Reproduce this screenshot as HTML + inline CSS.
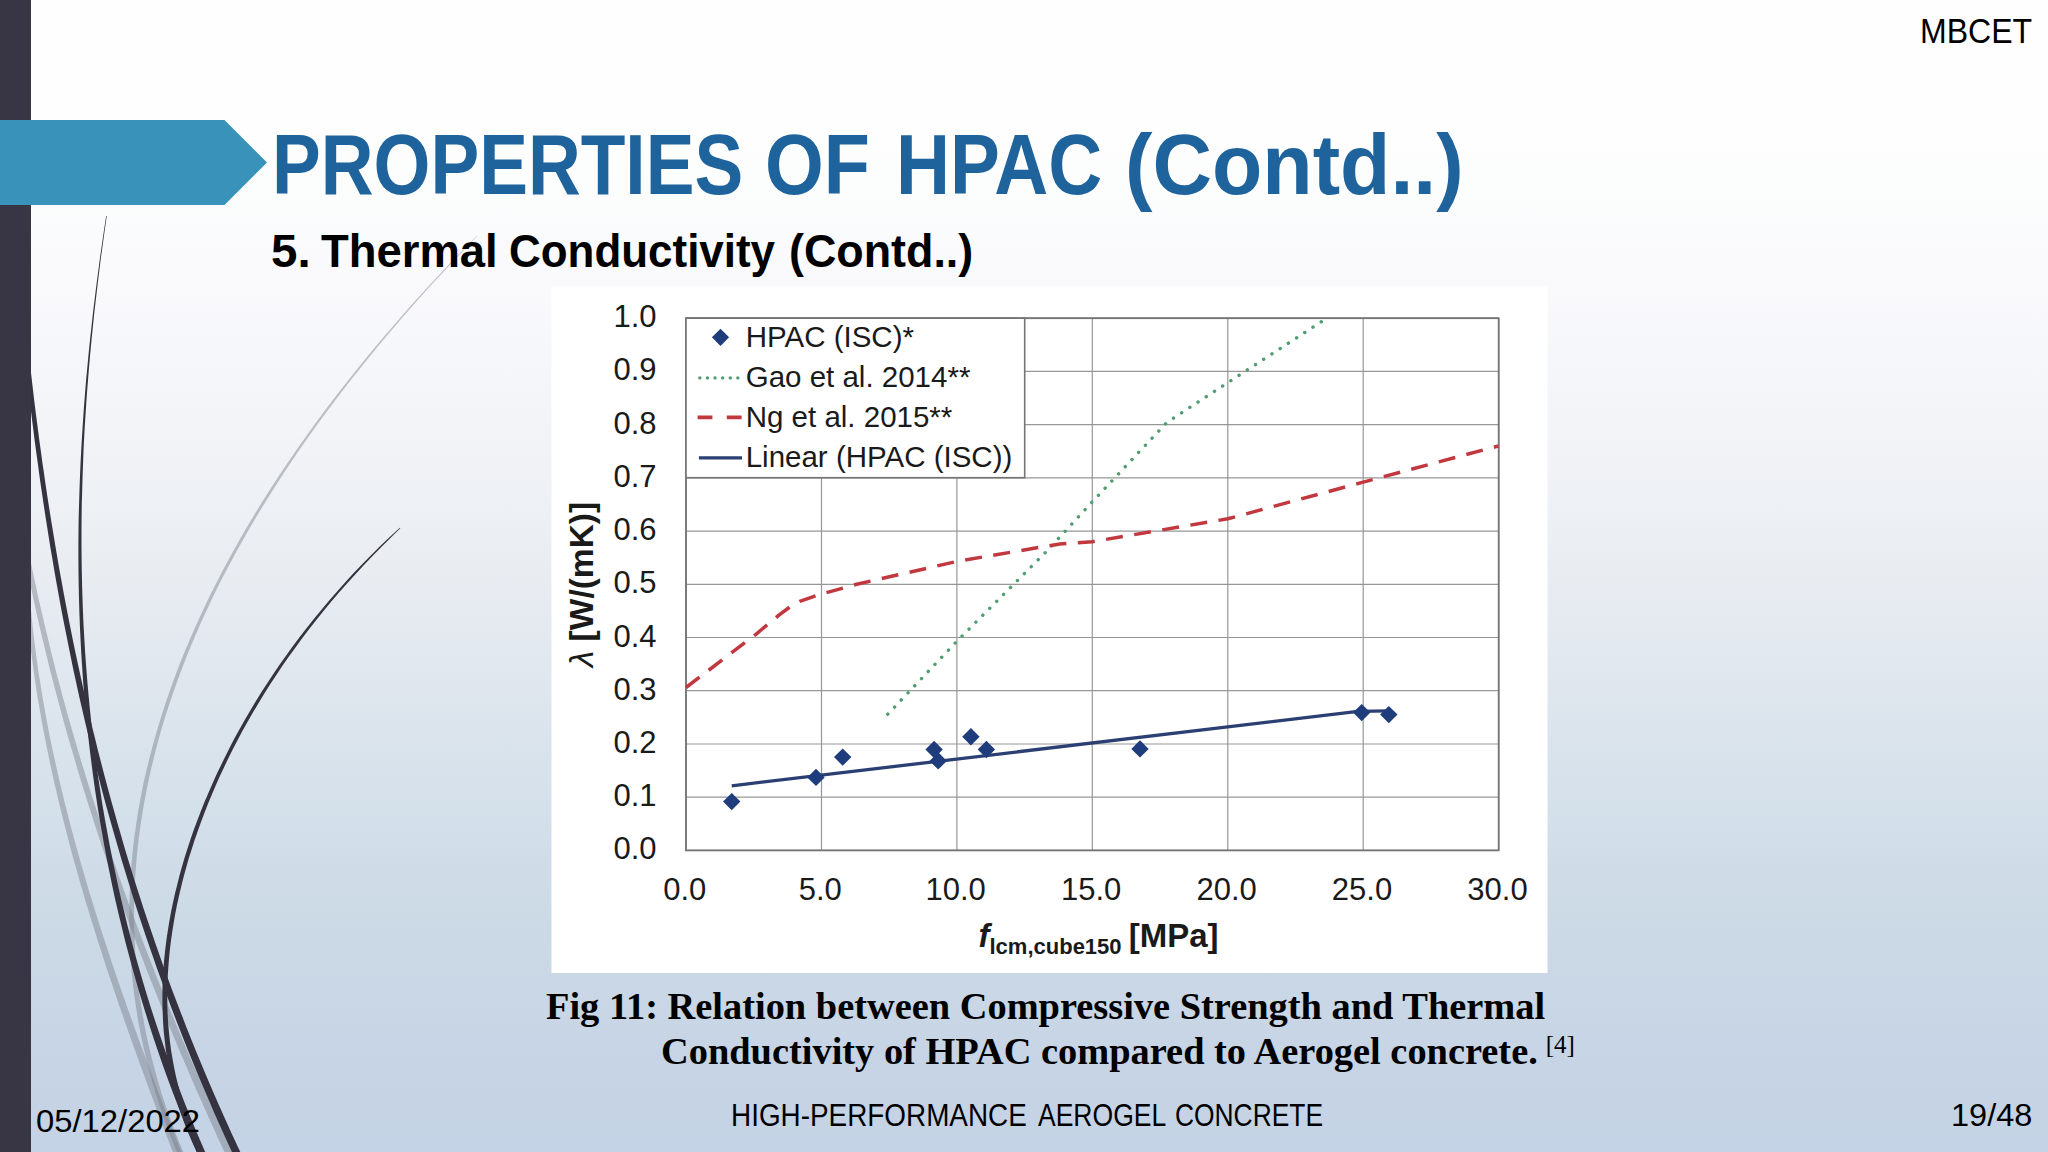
<!DOCTYPE html>
<html lang="en">
<head>
<meta charset="utf-8">
<title>PROPERTIES OF HPAC (Contd..)</title>
<style>
html,body{margin:0;padding:0;}
body{width:2048px;height:1152px;overflow:hidden;position:relative;font-family:"Liberation Sans",sans-serif;
background:linear-gradient(180deg,#fdfefd 0%,#fdfefd 12%,#f9f9fc 26%,#eef1f5 43%,#e5eaf0 54%,#d9e3ec 65%,#cddbe7 78%,#c6d4e5 92%,#c4d3e5 100%);}
.abs{position:absolute;white-space:nowrap;line-height:1;transform-origin:0 0;}
#sidebar{position:absolute;left:0;top:0;width:31px;height:1152px;background:#383644;}
svg{position:absolute;left:0;top:0;}
svg text{font-family:"Liberation Sans",sans-serif;}
#title{left:0;top:123.2px;font-size:84.4px;font-weight:bold;color:#1f639c;margin:0;}
#subtitle{left:0;top:227px;font-size:47px;font-weight:bold;color:#000;margin:0;}
.w{position:absolute;top:0;white-space:nowrap;transform-origin:0 0;display:block;}
#mbcet{left:1920px;top:14.4px;font-size:35.6px;transform:scaleX(0.90);color:#000;}
#footer{left:0;top:1099.6px;font-size:31.2px;color:#000;}
#date{left:36.2px;top:1107.3px;font-size:30.8px;transform:scaleX(1.0645);color:#000;}
#pageno{left:1951.4px;top:1100.9px;font-size:30.8px;transform:scaleX(1.055);color:#000;}
#caption{left:546px;top:983.5px;font-size:38.4px;line-height:45px;font-weight:bold;color:#000;font-family:"Liberation Serif",serif;}
#caption .l2{padding-left:115px;}
#caption sup{font-weight:normal;font-size:25px;vertical-align:baseline;position:relative;top:-11px;margin-left:8px;}
</style>
</head>
<body>
<svg id="deco" width="2048" height="1152" viewBox="0 0 2048 1152">
<path d="M25.9,600.2 L26.6,608.3 L27.3,616.4 L28.1,624.6 L28.9,632.7 L29.8,640.8 L30.8,649.0 L31.8,657.1 L32.9,665.2 L34.0,673.4 L35.2,681.5 L36.4,689.7 L37.7,697.8 L39.1,705.9 L40.5,714.1 L41.9,722.2 L43.4,730.3 L45.0,738.5 L46.6,746.6 L48.3,754.7 L50.0,762.9 L51.7,771.0 L53.5,779.2 L55.4,787.3 L57.3,795.4 L59.2,803.6 L61.2,811.7 L63.2,819.8 L65.3,828.0 L67.4,836.1 L69.5,844.2 L71.7,852.4 L73.9,860.5 L76.2,868.6 L78.5,876.8 L80.8,884.9 L83.2,893.1 L85.6,901.2 L88.1,909.3 L90.5,917.5 L93.0,925.6 L95.6,933.7 L98.2,941.9 L100.8,950.0 L103.4,958.1 L106.0,966.3 L108.7,974.4 L111.5,982.5 L114.2,990.7 L117.0,998.8 L119.7,1006.9 L122.6,1015.1 L125.4,1023.2 L128.3,1031.3 L131.1,1039.5 L134.0,1047.6 L137.0,1055.7 L139.9,1063.9 L142.9,1072.0 L145.8,1080.1 L148.8,1088.3 L151.9,1096.4 L154.9,1104.5 L157.9,1112.7 L161.0,1120.8 L164.0,1128.9 L167.1,1137.1 L170.2,1145.2 L173.3,1153.3 L176.4,1161.4 L183.9,1158.6 L180.7,1150.5 L177.6,1142.4 L174.4,1134.3 L171.3,1126.1 L168.2,1118.0 L165.1,1109.9 L162.0,1101.8 L158.9,1093.7 L155.9,1085.6 L152.8,1077.5 L149.8,1069.4 L146.8,1061.3 L143.8,1053.2 L140.8,1045.1 L137.9,1037.0 L135.0,1028.9 L132.1,1020.9 L129.2,1012.8 L126.3,1004.7 L123.5,996.6 L120.7,988.5 L117.9,980.4 L115.1,972.3 L112.4,964.2 L109.7,956.1 L107.0,948.0 L104.4,939.9 L101.7,931.8 L99.2,923.7 L96.6,915.6 L94.1,907.5 L91.6,899.4 L89.1,891.3 L86.7,883.2 L84.3,875.1 L82.0,867.0 L79.7,858.9 L77.4,850.8 L75.2,842.7 L73.0,834.6 L70.8,826.5 L68.7,818.4 L66.7,810.3 L64.6,802.2 L62.6,794.1 L60.7,786.0 L58.8,778.0 L57.0,769.9 L55.2,761.8 L53.4,753.7 L51.7,745.6 L50.0,737.5 L48.4,729.4 L46.9,721.3 L45.4,713.2 L43.9,705.1 L42.5,697.0 L41.2,688.9 L39.9,680.8 L38.6,672.7 L37.5,664.6 L36.3,656.5 L35.3,648.4 L34.2,640.3 L33.3,632.2 L32.4,624.1 L31.6,616.0 L30.8,607.9 L30.1,599.8Z" fill="#787d87" fill-opacity="0.45"/>
<path d="M25.4,560.5 L27.1,569.2 L28.9,577.9 L30.8,586.6 L32.6,595.3 L34.5,604.0 L36.4,612.8 L38.4,621.5 L40.4,630.2 L42.5,638.9 L44.6,647.6 L46.7,656.3 L48.8,665.0 L51.0,673.7 L53.3,682.4 L55.5,691.1 L57.9,699.9 L60.2,708.6 L62.6,717.3 L65.0,726.0 L67.4,734.7 L69.9,743.4 L72.5,752.1 L75.0,760.8 L77.6,769.5 L80.2,778.3 L82.9,787.0 L85.6,795.7 L88.3,804.4 L91.1,813.1 L93.9,821.8 L96.7,830.5 L99.6,839.2 L102.5,847.9 L105.5,856.7 L108.4,865.4 L111.4,874.1 L114.5,882.8 L117.6,891.5 L120.7,900.2 L123.8,908.9 L127.0,917.6 L130.2,926.4 L133.4,935.1 L136.7,943.8 L140.0,952.5 L143.4,961.2 L146.7,969.9 L150.1,978.6 L153.6,987.3 L157.1,996.1 L160.6,1004.8 L164.1,1013.5 L167.7,1022.2 L171.3,1030.9 L174.9,1039.6 L178.5,1048.3 L182.2,1057.0 L186.0,1065.8 L189.7,1074.5 L193.5,1083.2 L197.3,1091.9 L201.2,1100.6 L205.0,1109.3 L208.9,1118.0 L212.9,1126.7 L216.8,1135.5 L220.8,1144.2 L224.9,1152.9 L228.9,1161.6 L235.7,1158.4 L231.6,1149.7 L227.6,1141.0 L223.6,1132.4 L219.6,1123.7 L215.6,1115.0 L211.7,1106.3 L207.8,1097.7 L203.9,1089.0 L200.1,1080.3 L196.3,1071.6 L192.5,1062.9 L188.7,1054.3 L185.0,1045.6 L181.3,1036.9 L177.7,1028.2 L174.1,1019.5 L170.5,1010.9 L166.9,1002.2 L163.4,993.5 L159.9,984.8 L156.4,976.2 L153.0,967.5 L149.6,958.8 L146.2,950.1 L142.9,941.4 L139.6,932.8 L136.3,924.1 L133.1,915.4 L129.9,906.7 L126.7,898.0 L123.6,889.4 L120.5,880.7 L117.4,872.0 L114.4,863.3 L111.4,854.6 L108.4,846.0 L105.5,837.3 L102.6,828.6 L99.7,819.9 L96.9,811.2 L94.1,802.6 L91.3,793.9 L88.6,785.2 L85.9,776.5 L83.2,767.8 L80.6,759.2 L78.0,750.5 L75.5,741.8 L72.9,733.1 L70.5,724.4 L68.0,715.8 L65.6,707.1 L63.2,698.4 L60.9,689.7 L58.6,681.0 L56.3,672.4 L54.1,663.7 L51.9,655.0 L49.8,646.3 L47.7,637.6 L45.6,629.0 L43.5,620.3 L41.5,611.6 L39.6,602.9 L37.6,594.2 L35.8,585.6 L33.9,576.9 L32.1,568.2 L30.3,559.5Z" fill="#787d87" fill-opacity="0.45"/>
<path d="M477.1,235.4 L464.0,248.7 L451.2,262.1 L438.6,275.4 L426.2,288.8 L414.1,302.1 L402.2,315.5 L390.6,328.9 L379.2,342.2 L368.1,355.6 L357.2,369.0 L346.5,382.4 L336.1,395.7 L326.0,409.1 L316.0,422.5 L306.4,435.9 L296.9,449.3 L287.7,462.7 L278.8,476.0 L270.1,489.4 L261.6,502.8 L253.4,516.2 L245.5,529.6 L237.8,543.0 L230.3,556.4 L223.1,569.8 L216.2,583.2 L209.5,596.6 L203.1,610.0 L196.9,623.4 L191.0,636.8 L185.3,650.2 L179.9,663.6 L174.8,677.1 L169.9,690.5 L165.3,703.9 L161.0,717.3 L156.9,730.7 L153.1,744.2 L149.6,757.6 L146.3,771.0 L143.3,784.4 L140.6,797.9 L138.2,811.3 L136.1,824.8 L134.2,838.2 L132.7,851.6 L131.4,865.1 L130.4,878.5 L129.7,892.0 L129.3,905.4 L129.2,918.9 L129.4,932.3 L129.9,945.8 L130.6,959.2 L131.7,972.7 L133.1,986.1 L134.9,999.6 L136.9,1013.1 L139.2,1026.5 L141.9,1040.0 L144.9,1053.5 L148.2,1066.9 L151.8,1080.4 L155.8,1093.9 L160.1,1107.3 L164.7,1120.8 L169.7,1134.3 L175.0,1147.7 L180.6,1161.2 L186.1,1158.8 L180.5,1145.5 L175.2,1132.2 L170.2,1118.8 L165.5,1105.5 L161.2,1092.2 L157.3,1078.8 L153.6,1065.5 L150.3,1052.2 L147.2,1038.9 L144.5,1025.5 L142.2,1012.2 L140.1,998.9 L138.3,985.5 L136.9,972.2 L135.7,958.9 L134.9,945.5 L134.3,932.2 L134.1,918.8 L134.1,905.5 L134.5,892.2 L135.1,878.8 L136.0,865.5 L137.2,852.1 L138.7,838.7 L140.5,825.4 L142.6,812.0 L144.9,798.7 L147.5,785.3 L150.4,772.0 L153.6,758.6 L157.0,745.2 L160.7,731.8 L164.7,718.5 L169.0,705.1 L173.5,691.7 L178.3,678.3 L183.3,665.0 L188.6,651.6 L194.2,638.2 L200.0,624.8 L206.1,611.4 L212.4,598.0 L219.0,584.6 L225.9,571.3 L233.0,557.9 L240.4,544.5 L248.0,531.1 L255.8,517.7 L264.0,504.3 L272.3,490.9 L280.9,477.5 L289.8,464.0 L298.9,450.6 L308.2,437.2 L317.8,423.8 L327.7,410.4 L337.8,397.0 L348.1,383.6 L358.7,370.2 L369.5,356.7 L380.5,343.3 L391.8,329.9 L403.3,316.5 L415.1,303.0 L427.1,289.6 L439.4,276.2 L451.9,262.7 L464.6,249.3 L477.5,235.8Z" fill="#787d87" fill-opacity="0.45"/>
<path d="M399.9,527.8 L390.0,536.7 L380.5,545.8 L371.3,554.9 L362.4,564.0 L353.7,573.1 L345.3,582.3 L337.1,591.4 L329.2,600.5 L321.5,609.7 L314.0,618.8 L306.7,628.0 L299.7,637.1 L292.8,646.3 L286.2,655.4 L279.7,664.6 L273.5,673.7 L267.4,682.9 L261.5,692.0 L255.8,701.2 L250.3,710.4 L245.0,719.5 L239.8,728.7 L234.8,737.8 L230.0,747.0 L225.4,756.2 L220.9,765.4 L216.5,774.5 L212.4,783.7 L208.4,792.9 L204.5,802.0 L200.8,811.2 L197.3,820.4 L193.9,829.6 L190.7,838.8 L187.7,847.9 L184.8,857.1 L182.1,866.3 L179.5,875.5 L177.2,884.7 L174.9,893.9 L172.9,903.1 L171.0,912.3 L169.3,921.5 L167.8,930.7 L166.4,939.9 L165.3,949.1 L164.3,958.3 L163.5,967.5 L162.9,976.7 L162.5,985.9 L162.4,995.1 L162.4,1004.3 L162.7,1013.6 L163.1,1022.8 L163.8,1032.0 L164.8,1041.2 L165.9,1050.5 L167.4,1059.7 L169.0,1068.9 L171.0,1078.1 L173.2,1087.4 L175.7,1096.6 L178.4,1105.9 L181.5,1115.1 L184.8,1124.3 L188.5,1133.6 L192.5,1142.8 L196.8,1152.1 L201.4,1161.3 L206.4,1158.7 L201.8,1149.6 L197.5,1140.5 L193.6,1131.5 L189.9,1122.4 L186.6,1113.3 L183.5,1104.2 L180.8,1095.2 L178.3,1086.1 L176.1,1077.0 L174.2,1067.9 L172.5,1058.8 L171.0,1049.7 L169.8,1040.6 L168.9,1031.5 L168.1,1022.4 L167.6,1013.3 L167.3,1004.2 L167.3,995.1 L167.4,986.0 L167.7,976.9 L168.3,967.8 L169.0,958.7 L169.9,949.6 L171.0,940.5 L172.3,931.4 L173.8,922.2 L175.4,913.1 L177.2,904.0 L179.2,894.9 L181.4,885.7 L183.7,876.6 L186.2,867.5 L188.8,858.3 L191.7,849.2 L194.6,840.1 L197.8,830.9 L201.1,821.8 L204.5,812.7 L208.1,803.5 L211.9,794.4 L215.8,785.2 L219.9,776.1 L224.2,766.9 L228.6,757.8 L233.2,748.6 L237.9,739.5 L242.8,730.3 L247.9,721.2 L253.2,712.0 L258.6,702.9 L264.2,693.7 L270.0,684.5 L276.0,675.4 L282.1,666.2 L288.5,657.1 L295.1,647.9 L301.8,638.7 L308.8,629.5 L315.9,620.4 L323.3,611.2 L330.9,602.0 L338.8,592.8 L346.8,583.7 L355.2,574.5 L363.7,565.3 L372.5,556.1 L381.6,546.8 L390.9,537.6 L400.3,528.2Z" fill="#34333f" fill-opacity="1"/>
<path d="M106.2,216.0 L104.1,229.6 L102.1,243.3 L100.1,257.0 L98.3,270.7 L96.5,284.3 L94.8,298.0 L93.1,311.7 L91.6,325.4 L90.1,339.1 L88.7,352.7 L87.4,366.4 L86.1,380.1 L85.0,393.8 L83.9,407.5 L83.0,421.1 L82.1,434.8 L81.3,448.5 L80.6,462.2 L80.0,475.9 L79.5,489.6 L79.1,503.3 L78.7,517.0 L78.5,530.7 L78.4,544.3 L78.4,558.0 L78.5,571.7 L78.7,585.4 L79.0,599.1 L79.4,612.8 L79.9,626.5 L80.6,640.2 L81.3,653.9 L82.2,667.6 L83.1,681.3 L84.2,695.0 L85.4,708.7 L86.8,722.4 L88.2,736.1 L89.8,749.9 L91.5,763.6 L93.3,777.3 L95.2,791.0 L97.3,804.7 L99.5,818.4 L101.9,832.1 L104.3,845.8 L106.9,859.6 L109.7,873.3 L112.5,887.0 L115.5,900.7 L118.7,914.4 L122.0,928.1 L125.4,941.9 L129.0,955.6 L132.7,969.3 L136.6,983.0 L140.6,996.8 L144.8,1010.5 L149.1,1024.2 L153.5,1038.0 L158.2,1051.7 L162.9,1065.4 L167.9,1079.2 L173.0,1092.9 L178.2,1106.6 L183.6,1120.4 L189.2,1134.1 L194.9,1147.8 L200.8,1161.6 L208.0,1158.4 L202.0,1144.8 L196.2,1131.2 L190.6,1117.6 L185.1,1103.9 L179.8,1090.3 L174.6,1076.7 L169.6,1063.0 L164.8,1049.4 L160.1,1035.8 L155.5,1022.1 L151.1,1008.5 L146.9,994.9 L142.8,981.2 L138.8,967.6 L135.0,954.0 L131.3,940.3 L127.8,926.7 L124.5,913.1 L121.2,899.4 L118.1,885.8 L115.2,872.1 L112.3,858.5 L109.6,844.8 L107.1,831.2 L104.6,817.5 L102.3,803.9 L100.2,790.2 L98.1,776.6 L96.2,762.9 L94.4,749.3 L92.7,735.6 L91.2,722.0 L89.8,708.3 L88.5,694.7 L87.3,681.0 L86.2,667.3 L85.2,653.7 L84.4,640.0 L83.6,626.3 L83.0,612.7 L82.5,599.0 L82.1,585.4 L81.8,571.7 L81.6,558.0 L81.5,544.3 L81.5,530.7 L81.6,517.0 L81.8,503.3 L82.2,489.7 L82.6,476.0 L83.1,462.3 L83.6,448.6 L84.3,435.0 L85.1,421.3 L86.0,407.6 L86.9,393.9 L88.0,380.3 L89.1,366.6 L90.3,352.9 L91.6,339.2 L93.0,325.5 L94.4,311.8 L96.0,298.2 L97.6,284.5 L99.3,270.8 L101.0,257.1 L102.9,243.4 L104.8,229.7 L106.8,216.0Z" fill="#34333f" fill-opacity="1"/>
<path d="M22.1,330.2 L23.3,342.2 L24.6,354.3 L25.9,366.3 L27.2,378.4 L28.6,390.4 L30.0,402.4 L31.4,414.5 L32.9,426.5 L34.4,438.6 L36.0,450.6 L37.7,462.6 L39.3,474.7 L41.0,486.7 L42.8,498.8 L44.6,510.8 L46.5,522.9 L48.4,534.9 L50.3,546.9 L52.4,559.0 L54.4,571.0 L56.5,583.1 L58.7,595.1 L60.9,607.2 L63.2,619.2 L65.6,631.3 L68.0,643.3 L70.4,655.3 L72.9,667.4 L75.5,679.4 L78.1,691.5 L80.8,703.5 L83.6,715.6 L86.4,727.6 L89.3,739.7 L92.2,751.7 L95.2,763.8 L98.3,775.8 L101.4,787.9 L104.6,799.9 L107.9,812.0 L111.3,824.0 L114.7,836.1 L118.2,848.1 L121.7,860.2 L125.4,872.2 L129.1,884.3 L132.8,896.4 L136.7,908.4 L140.6,920.5 L144.6,932.5 L148.7,944.6 L152.9,956.6 L157.1,968.7 L161.5,980.7 L165.9,992.8 L170.3,1004.9 L174.9,1016.9 L179.6,1029.0 L184.3,1041.0 L189.1,1053.1 L194.0,1065.1 L199.0,1077.2 L204.1,1089.3 L209.3,1101.3 L214.5,1113.4 L219.9,1125.4 L225.3,1137.5 L230.8,1149.6 L236.4,1161.6 L243.3,1158.4 L237.7,1146.4 L232.1,1134.4 L226.7,1122.4 L221.3,1110.4 L216.0,1098.4 L210.8,1086.4 L205.7,1074.4 L200.7,1062.4 L195.7,1050.4 L190.9,1038.4 L186.1,1026.4 L181.5,1014.4 L176.9,1002.4 L172.3,990.4 L167.9,978.4 L163.5,966.4 L159.3,954.4 L155.1,942.4 L151.0,930.4 L146.9,918.4 L142.9,906.4 L139.1,894.4 L135.2,882.4 L131.5,870.4 L127.8,858.4 L124.2,846.4 L120.7,834.3 L117.2,822.3 L113.9,810.3 L110.5,798.3 L107.3,786.3 L104.1,774.3 L101.0,762.3 L97.9,750.3 L95.0,738.3 L92.0,726.3 L89.2,714.3 L86.4,702.3 L83.7,690.3 L81.0,678.2 L78.4,666.2 L75.8,654.2 L73.3,642.2 L70.9,630.2 L68.5,618.2 L66.2,606.2 L63.9,594.2 L61.7,582.1 L59.5,570.1 L57.4,558.1 L55.4,546.1 L53.4,534.1 L51.4,522.1 L49.5,510.1 L47.6,498.0 L45.8,486.0 L44.1,474.0 L42.3,462.0 L40.7,450.0 L39.0,438.0 L37.5,425.9 L35.9,413.9 L34.4,401.9 L33.0,389.9 L31.6,377.9 L30.2,365.8 L28.8,353.8 L27.5,341.8 L26.3,329.8Z" fill="#34333f" fill-opacity="1"/>
</svg>
<div id="sidebar"></div>
<svg id="arrow" width="2048" height="1152" viewBox="0 0 2048 1152">
<polygon points="0,120 224.5,120 267,162.5 224.5,205 0,205" fill="#3892b9"/>
</svg>
<h1 class="abs" id="title"><span class="w" style="left:272.1px;transform:scaleX(0.8661)">PROPERTIES</span> <span class="w" style="left:765.3px;transform:scaleX(0.8941)">OF</span> <span class="w" style="left:895.5px;transform:scaleX(0.8862)">HPAC</span> <span class="w" style="left:1124.8px;transform:scaleX(0.9766)">(Contd..)</span></h1>
<h2 class="abs" id="subtitle"><span class="w" style="left:271.0px;transform:scaleX(1.0110)">5.</span> <span class="w" style="left:321.2px;transform:scaleX(0.9665)">Thermal</span> <span class="w" style="left:509.1px;transform:scaleX(0.9348)">Conductivity</span> <span class="w" style="left:788.6px;transform:scaleX(0.9538)">(Contd..)</span></h2>
<div class="abs" id="mbcet">MBCET</div>
<svg id="chart" width="2048" height="1152" viewBox="0 0 2048 1152">
<rect x="551.5" y="286.5" width="996" height="686.5" fill="#ffffff"/>
<line x1="686.0" y1="850.4" x2="1498.7" y2="850.4" stroke="#979797" stroke-width="1.2"/>
<line x1="686.0" y1="797.2" x2="1498.7" y2="797.2" stroke="#979797" stroke-width="1.2"/>
<line x1="686.0" y1="744.0" x2="1498.7" y2="744.0" stroke="#979797" stroke-width="1.2"/>
<line x1="686.0" y1="690.7" x2="1498.7" y2="690.7" stroke="#979797" stroke-width="1.2"/>
<line x1="686.0" y1="637.5" x2="1498.7" y2="637.5" stroke="#979797" stroke-width="1.2"/>
<line x1="686.0" y1="584.3" x2="1498.7" y2="584.3" stroke="#979797" stroke-width="1.2"/>
<line x1="686.0" y1="531.1" x2="1498.7" y2="531.1" stroke="#979797" stroke-width="1.2"/>
<line x1="686.0" y1="477.9" x2="1498.7" y2="477.9" stroke="#979797" stroke-width="1.2"/>
<line x1="686.0" y1="424.6" x2="1498.7" y2="424.6" stroke="#979797" stroke-width="1.2"/>
<line x1="686.0" y1="371.4" x2="1498.7" y2="371.4" stroke="#979797" stroke-width="1.2"/>
<line x1="686.0" y1="318.2" x2="1498.7" y2="318.2" stroke="#979797" stroke-width="1.2"/>
<line x1="686.0" y1="850.4" x2="686.0" y2="318.2" stroke="#979797" stroke-width="1.2"/>
<line x1="821.5" y1="850.4" x2="821.5" y2="318.2" stroke="#979797" stroke-width="1.2"/>
<line x1="956.9" y1="850.4" x2="956.9" y2="318.2" stroke="#979797" stroke-width="1.2"/>
<line x1="1092.3" y1="850.4" x2="1092.3" y2="318.2" stroke="#979797" stroke-width="1.2"/>
<line x1="1227.8" y1="850.4" x2="1227.8" y2="318.2" stroke="#979797" stroke-width="1.2"/>
<line x1="1363.2" y1="850.4" x2="1363.2" y2="318.2" stroke="#979797" stroke-width="1.2"/>
<line x1="1498.7" y1="850.4" x2="1498.7" y2="318.2" stroke="#979797" stroke-width="1.2"/>
<rect x="686.0" y="318.2" width="812.7" height="532.2" fill="none" stroke="#757575" stroke-width="1.8"/>
<rect x="686.0" y="318.2" width="338.7" height="159.5" fill="#ffffff" stroke="#757575" stroke-width="1.6"/>
<text x="656.5" y="859.4" text-anchor="end" font-size="31" fill="#1a1a1a">0.0</text>
<text x="656.5" y="806.2" text-anchor="end" font-size="31" fill="#1a1a1a">0.1</text>
<text x="656.5" y="753.0" text-anchor="end" font-size="31" fill="#1a1a1a">0.2</text>
<text x="656.5" y="699.7" text-anchor="end" font-size="31" fill="#1a1a1a">0.3</text>
<text x="656.5" y="646.5" text-anchor="end" font-size="31" fill="#1a1a1a">0.4</text>
<text x="656.5" y="593.3" text-anchor="end" font-size="31" fill="#1a1a1a">0.5</text>
<text x="656.5" y="540.1" text-anchor="end" font-size="31" fill="#1a1a1a">0.6</text>
<text x="656.5" y="486.9" text-anchor="end" font-size="31" fill="#1a1a1a">0.7</text>
<text x="656.5" y="433.6" text-anchor="end" font-size="31" fill="#1a1a1a">0.8</text>
<text x="656.5" y="380.4" text-anchor="end" font-size="31" fill="#1a1a1a">0.9</text>
<text x="656.5" y="327.2" text-anchor="end" font-size="31" fill="#1a1a1a">1.0</text>
<text x="684.8" y="900.3" text-anchor="middle" font-size="31" fill="#1a1a1a">0.0</text>
<text x="820.2" y="900.3" text-anchor="middle" font-size="31" fill="#1a1a1a">5.0</text>
<text x="955.7" y="900.3" text-anchor="middle" font-size="31" fill="#1a1a1a">10.0</text>
<text x="1091.1" y="900.3" text-anchor="middle" font-size="31" fill="#1a1a1a">15.0</text>
<text x="1226.6" y="900.3" text-anchor="middle" font-size="31" fill="#1a1a1a">20.0</text>
<text x="1362.0" y="900.3" text-anchor="middle" font-size="31" fill="#1a1a1a">25.0</text>
<text x="1497.5" y="900.3" text-anchor="middle" font-size="31" fill="#1a1a1a">30.0</text>
<polyline points="887.8,714.2 956.9,641.2 1047.7,550.2 1092.3,501.8 1166.8,422.5 1227.8,382.6 1322.6,320.9" fill="none" stroke="#4f9d70" stroke-width="3.4" stroke-linecap="round" stroke-dasharray="0.1 9.7"/>
<polyline points="686.0,687.5 755.9,634.3 778.9,615.2 790.3,606.7 799.8,601.3 819.8,594.4 856.7,584.3 956.9,561.4 1059.8,543.9 1092.3,541.7 1227.8,518.8 1363.2,482.1 1498.7,445.9" fill="none" stroke="#c2383f" stroke-width="3.5" stroke-dasharray="17 11.5" stroke-linejoin="round"/>
<polyline points="731.7,785.8 1358,711.4 1388.8,710.8" fill="none" stroke="#2b3f72" stroke-width="3.3" stroke-linejoin="round"/>
<path d="M731.7,792.9 L740.4,801.6 L731.7,810.3 L723.0,801.6Z" fill="#1f3d7c"/>
<path d="M816.0,768.7 L824.7,777.4 L816.0,786.1 L807.3,777.4Z" fill="#1f3d7c"/>
<path d="M842.7,748.4 L851.4,757.1 L842.7,765.8 L834.0,757.1Z" fill="#1f3d7c"/>
<path d="M934.1,740.8 L942.8,749.5 L934.1,758.2 L925.4,749.5Z" fill="#1f3d7c"/>
<path d="M938.2,752.2 L946.9,760.9 L938.2,769.6 L929.5,760.9Z" fill="#1f3d7c"/>
<path d="M970.9,728.1 L979.6,736.8 L970.9,745.5 L962.2,736.8Z" fill="#1f3d7c"/>
<path d="M986.4,740.8 L995.1,749.5 L986.4,758.2 L977.7,749.5Z" fill="#1f3d7c"/>
<path d="M1140.0,740.2 L1148.7,748.9 L1140.0,757.6 L1131.3,748.9Z" fill="#1f3d7c"/>
<path d="M1361.7,703.9 L1370.4,712.6 L1361.7,721.3 L1353.0,712.6Z" fill="#1f3d7c"/>
<path d="M1388.8,705.9 L1397.5,714.6 L1388.8,723.3 L1380.1,714.6Z" fill="#1f3d7c"/>
<path d="M720.5,328.7 L729.1,337.3 L720.5,345.9 L711.9,337.3Z" fill="#1f3d7c"/>
<line x1="699.8" y1="377.9" x2="740" y2="377.9" stroke="#4f9d70" stroke-width="3.3" stroke-linecap="round" stroke-dasharray="0.1 7.5"/>
<line x1="697.6" y1="417.3" x2="742" y2="417.3" stroke="#c2383f" stroke-width="3.7" stroke-dasharray="14.8 14.4"/>
<line x1="698.9" y1="457.9" x2="742" y2="457.9" stroke="#2b3f72" stroke-width="3.3"/>
<text x="745.7" y="346.5" font-size="29.5" fill="#1a1a1a">HPAC (ISC)*</text>
<text x="745.7" y="387.1" font-size="29.5" fill="#1a1a1a">Gao et al. 2014**</text>
<text x="745.7" y="426.5" font-size="29.5" fill="#1a1a1a">Ng et al. 2015**</text>
<text x="745.7" y="467.1" font-size="29.5" fill="#1a1a1a">Linear (HPAC (ISC))</text>
<text transform="translate(593,667.2) rotate(-90)" font-size="33.5" font-weight="bold" fill="#1a1a1a"><tspan font-style="italic" font-weight="normal">λ</tspan> [W/(mK)]</text>
<text x="978.5" y="946.5" font-size="33" font-weight="bold" fill="#1a1a1a"><tspan font-style="italic">f</tspan><tspan font-size="22" dy="7">lcm,cube150</tspan><tspan dy="-7" dx="-2"> [MPa]</tspan></text>
</svg>
<div class="abs" id="caption"><div>Fig 11: Relation between Compressive Strength and Thermal</div><div class="l2">Conductivity of HPAC compared to Aerogel concrete.<sup>[4]</sup></div></div>
<div class="abs" id="date">05/12/2022</div>
<div class="abs" id="footer"><span class="w" style="left:730.6px;transform:scaleX(0.8939)">HIGH-PERFORMANCE</span> <span class="w" style="left:1037.5px;transform:scaleX(0.8502)">AEROGEL</span> <span class="w" style="left:1174.9px;transform:scaleX(0.8456)">CONCRETE</span></div>
<div class="abs" id="pageno">19/48</div>
</body>
</html>
